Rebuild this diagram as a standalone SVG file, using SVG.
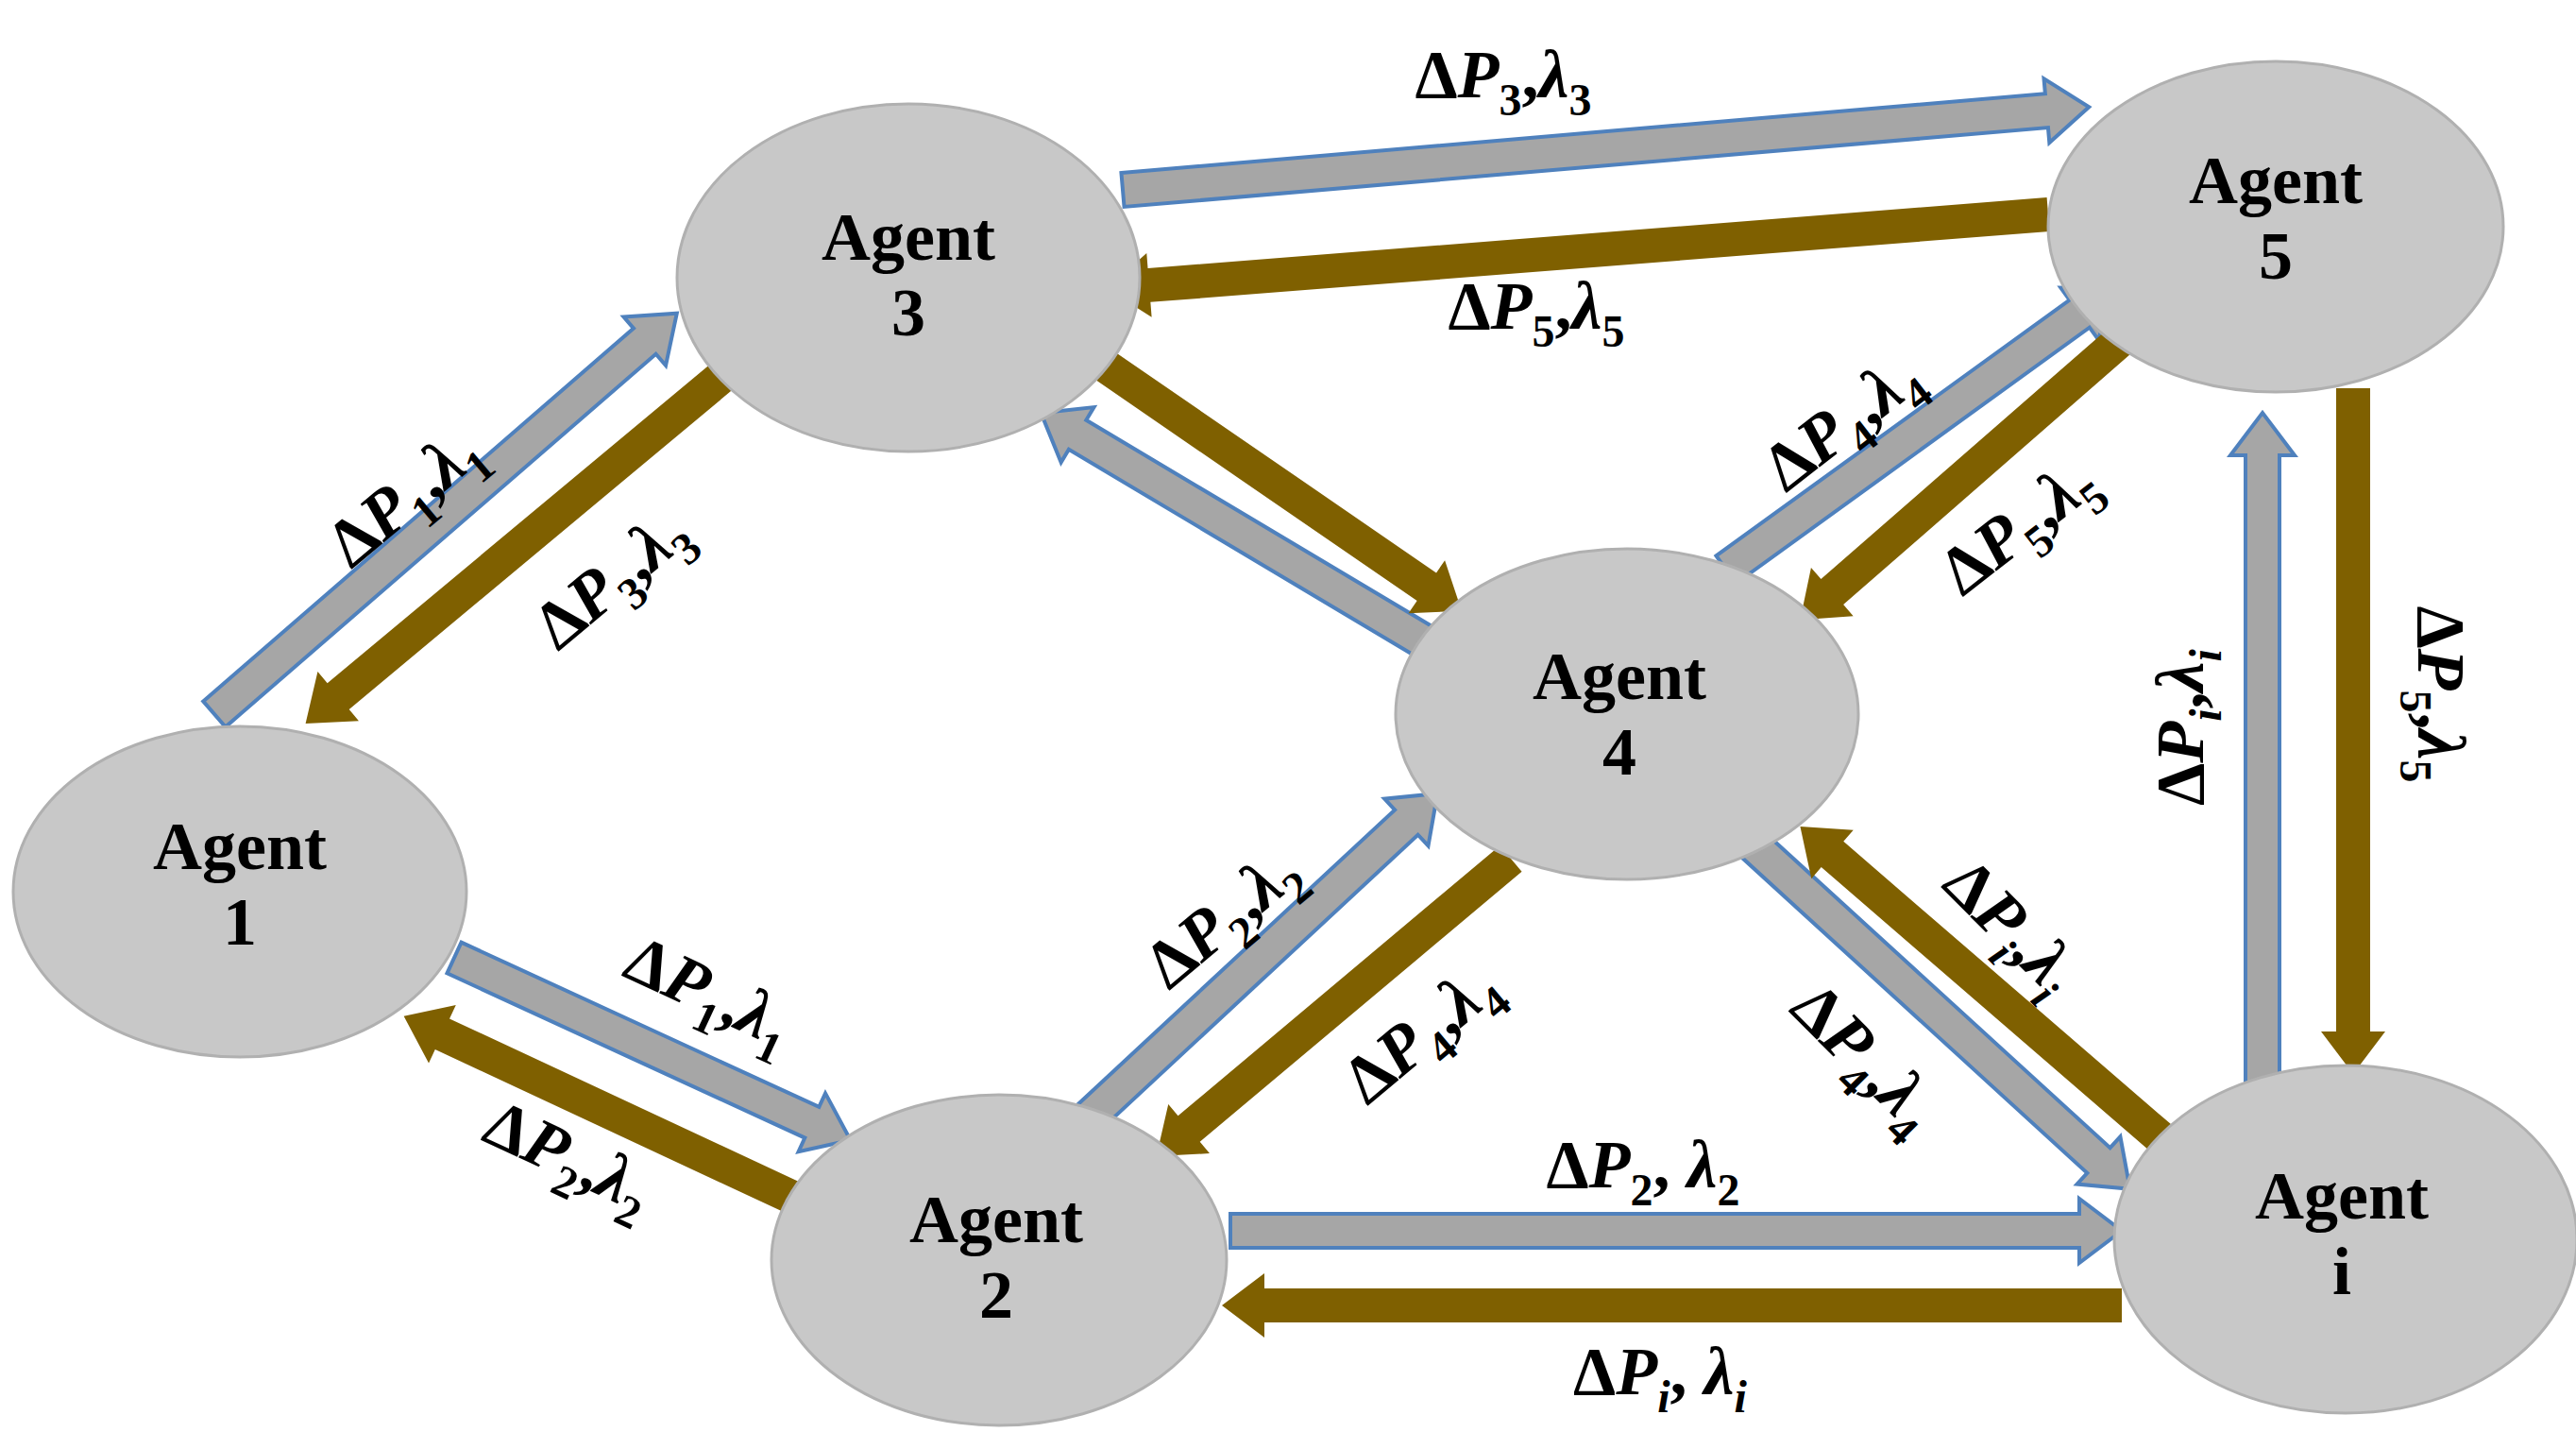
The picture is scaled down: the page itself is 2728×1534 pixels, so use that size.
<svg xmlns="http://www.w3.org/2000/svg" width="2728" height="1534" viewBox="0 0 2728 1534">
<style>
.node{fill:#c8c8c8;stroke:#b0b0b0;stroke-width:3}
.nt{font-family:"Liberation Serif",serif;font-weight:bold;font-size:72px;fill:#000;text-anchor:middle}
.g{fill:#a6a6a6;stroke:#4f81bd;stroke-width:4}
.b{fill:#7f6000}
.lb{font-family:"Liberation Serif",serif;font-weight:bold;font-size:72px;fill:#000;text-anchor:middle;dominant-baseline:central}
.i{font-style:italic}
.s{font-size:48px;baseline-shift:sub}
</style>
<rect width="2728" height="1534" fill="#fff"/>
<g id="connectors">
<polygon class="g" transform="translate(227,756) rotate(-40.9)" points="0,-18 603,-18 603,-34 648,0 603,34 603,18 0,18"/>
<polygon class="b" transform="translate(770,394) rotate(140.2)" points="0,-18 536,-18 536,-34 581,0 536,34 536,18 0,18"/>
<polygon class="g" transform="translate(1189,201) rotate(-4.9)" points="0,-18 982,-18 982,-34 1027,0 982,34 982,18 0,18"/>
<polygon class="b" transform="translate(2169,227) rotate(175.5)" points="0,-18 955,-18 955,-34 1000,0 955,34 955,18 0,18"/>
<polygon class="g" transform="translate(1513,682) rotate(-149.2)" points="0,-18 433,-18 433,-34 478,0 433,34 433,18 0,18"/>
<polygon class="b" transform="translate(1154,376) rotate(34.5)" points="0,-18 433,-18 433,-34 478,0 433,34 433,18 0,18"/>
<polygon class="g" transform="translate(1828,603) rotate(-35.9)" points="0,-18 462,-18 462,-34 507,0 462,34 462,18 0,18"/>
<polygon class="b" transform="translate(2247,359) rotate(138.9)" points="0,-18 407,-18 407,-34 452,0 407,34 407,18 0,18"/>
<polygon class="g" transform="translate(2396,1146) rotate(-90)" points="0,-18 664,-18 664,-34 709,0 664,34 664,18 0,18"/>
<polygon class="b" transform="translate(2492,411) rotate(90)" points="0,-18 681,-18 681,-34 726,0 681,34 681,18 0,18"/>
<polygon class="g" transform="translate(481,1014) rotate(24.7)" points="0,-18 417,-18 417,-34 462,0 417,34 417,18 0,18"/>
<polygon class="b" transform="translate(840,1268) rotate(-155)" points="0,-18 410,-18 410,-34 455,0 410,34 410,18 0,18"/>
<polygon class="g" transform="translate(1137,1198) rotate(-42.9)" points="0,-18 481,-18 481,-34 526,0 481,34 481,18 0,18"/>
<polygon class="b" transform="translate(1600,909) rotate(140)" points="0,-18 445,-18 445,-34 490,0 445,34 445,18 0,18"/>
<polygon class="g" transform="translate(1854,892) rotate(42.4)" points="0,-18 499,-18 499,-34 544,0 499,34 499,18 0,18"/>
<polygon class="b" transform="translate(2291,1207) rotate(-139.2)" points="0,-18 463,-18 463,-34 508,0 463,34 463,18 0,18"/>
<polygon class="g" transform="translate(1303,1303)" points="0,-18 899,-18 899,-34 944,0 899,34 899,18 0,18"/>
<polygon class="b" transform="translate(2247,1382) rotate(180)" points="0,-18 908,-18 908,-34 953,0 908,34 908,18 0,18"/>
</g>
<g id="agent1"><ellipse class="node" cx="254" cy="944" rx="240" ry="175"/><text class="nt" x="254" y="920">Agent</text><text class="nt" x="254" y="1000">1</text></g>
<g id="agent3"><ellipse class="node" cx="962" cy="294" rx="245" ry="184"/><text class="nt" x="962" y="275">Agent</text><text class="nt" x="962" y="355">3</text></g>
<g id="agent5"><ellipse class="node" cx="2410" cy="240" rx="241" ry="175"/><text class="nt" x="2410" y="215">Agent</text><text class="nt" x="2410" y="295">5</text></g>
<g id="agent4"><ellipse class="node" cx="1723" cy="756" rx="245" ry="175"/><text class="nt" x="1715" y="740">Agent</text><text class="nt" x="1715" y="820">4</text></g>
<g id="agent2"><ellipse class="node" cx="1058" cy="1334" rx="241" ry="175"/><text class="nt" x="1055" y="1315">Agent</text><text class="nt" x="1055" y="1395">2</text></g>
<g id="agenti"><ellipse class="node" cx="2484" cy="1312" rx="245" ry="184"/><text class="nt" x="2480" y="1290">Agent</text><text class="nt" x="2480" y="1370">i</text></g>
<g id="labels">
<text class="lb" transform="translate(428,525) rotate(-40)">Δ<tspan class="i">P</tspan><tspan class="s">1</tspan>,<tspan class="i">λ</tspan><tspan class="s">1</tspan></text>
<text class="lb" transform="translate(647,612) rotate(-40)">Δ<tspan class="i">P</tspan><tspan class="s">3</tspan>,<tspan class="i">λ</tspan><tspan class="s">3</tspan></text>
<text class="lb" transform="translate(1592,79)">Δ<tspan class="i">P</tspan><tspan class="s">3</tspan>,<tspan class="i">λ</tspan><tspan class="s">3</tspan></text>
<text class="lb" transform="translate(1627,324)">Δ<tspan class="i">P</tspan><tspan class="s">5</tspan>,<tspan class="i">λ</tspan><tspan class="s">5</tspan></text>
<text class="lb" transform="translate(1950,446) rotate(-38)">Δ<tspan class="i">P</tspan><tspan class="s">4</tspan>,<tspan class="i">λ</tspan><tspan class="s">4</tspan></text>
<text class="lb" transform="translate(2137,556) rotate(-38)">Δ<tspan class="i">P</tspan><tspan class="s">5</tspan>,<tspan class="i">λ</tspan><tspan class="s">5</tspan></text>
<text class="lb" transform="translate(2309,770) rotate(-90)">Δ<tspan class="i">P</tspan><tspan class="s i">i</tspan>,<tspan class="i">λ</tspan><tspan class="s i">i</tspan></text>
<text class="lb" transform="translate(2585,735) rotate(90)">Δ<tspan class="i">P</tspan><tspan class="s">5</tspan>,<tspan class="i">λ</tspan><tspan class="s">5</tspan></text>
<text class="lb" transform="translate(752,1050) rotate(25)">Δ<tspan class="i">P</tspan><tspan class="s">1</tspan>,<tspan class="i">λ</tspan><tspan class="s">1</tspan></text>
<text class="lb" transform="translate(603,1224) rotate(25)">Δ<tspan class="i">P</tspan><tspan class="s">2</tspan>,<tspan class="i">λ</tspan><tspan class="s">2</tspan></text>
<text class="lb" transform="translate(1294,971) rotate(-40)">Δ<tspan class="i">P</tspan><tspan class="s">2</tspan>,<tspan class="i">λ</tspan><tspan class="s">2</tspan></text>
<text class="lb" transform="translate(1504,1093) rotate(-40)">Δ<tspan class="i">P</tspan><tspan class="s">4</tspan>,<tspan class="i">λ</tspan><tspan class="s">4</tspan></text>
<text class="lb" transform="translate(2130,980) rotate(45)">Δ<tspan class="i">P</tspan><tspan class="s i">i</tspan>,<tspan class="i">λ</tspan><tspan class="s i">i</tspan></text>
<text class="lb" transform="translate(1976,1119) rotate(45)">Δ<tspan class="i">P</tspan><tspan class="s">4</tspan>,<tspan class="i">λ</tspan><tspan class="s">4</tspan></text>
<text class="lb" transform="translate(1740,1233)">Δ<tspan class="i">P</tspan><tspan class="s">2</tspan>, <tspan class="i">λ</tspan><tspan class="s">2</tspan></text>
<text class="lb" transform="translate(1758,1452)">Δ<tspan class="i">P</tspan><tspan class="s i">i</tspan>, <tspan class="i">λ</tspan><tspan class="s i">i</tspan></text>
</g>
</svg>
